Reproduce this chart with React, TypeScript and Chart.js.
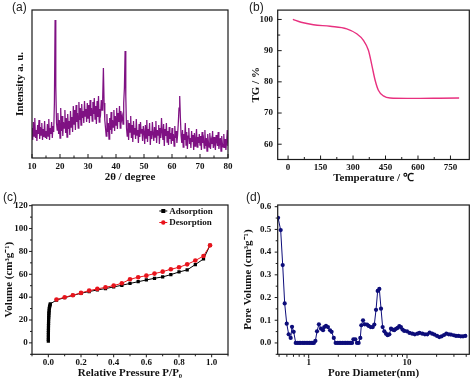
import React, { useEffect, useRef } from "react";
import { Chart, registerables } from "chart.js";

Chart.register(...registerables);

const SERIF = '"Liberation Serif", "Times New Roman", serif';
const SANS = '"Liberation Sans", Arial, sans-serif';

// ---------- (a) XRD ----------
const XRD_START = 10;
const XRD_STEP = 0.25;
const xrdIntensity = [
  30, 18, 36, 22, 40, 20, 28, 17, 33, 24, 38, 19, 31, 23, 35, 18, 29, 21, 37, 20,
  27, 19, 34, 22, 39, 18, 30, 24, 36, 20, 32, 26,
  55, 138, 72, 35,
  28, 45, 24, 38, 20, 50, 27, 42, 22, 36, 30, 48, 25, 40, 21, 44, 29, 37, 23, 47, 31, 41, 26, 52,
  34, 48, 28, 53, 36, 45, 30, 56, 38, 50, 33, 54, 40, 47, 35, 57, 42, 49, 36, 55,
  40, 53, 35, 58, 42, 50, 37, 56, 44, 60, 39, 52, 34, 57, 41, 62, 36, 49, 45, 58,
  48, 60, 90, 55, 38,
  30, 22, 44, 26, 35, 19, 40, 28, 46, 24, 38, 31, 48, 27, 42,
  33, 50, 29, 45, 36, 52, 30, 47, 38, 42, 34, 55,
  70, 107, 62, 30,
  22, 38, 18, 35, 26, 42, 20, 33, 16, 37, 24, 30, 19, 39, 23, 28, 15, 34, 21, 36, 25, 29, 17, 32,
  26, 14, 33, 20, 38, 16, 29, 22, 35, 13, 27, 19, 36, 24, 17, 31, 21, 37, 15, 28,
  23, 33, 14, 30, 20, 40, 26, 18, 34, 12, 29, 22, 35, 16, 27, 13, 31, 19, 25, 14,
  30, 17, 24, 12, 32, 20, 27, 15, 23, 35, 50,
  62, 40, 22,
  15, 28, 11, 24, 18, 35, 13, 26, 9, 22, 30, 14, 20, 10, 27, 16, 23, 8, 25, 12, 19, 29, 11, 21, 15, 24,
  13, 22, 8, 26, 15, 19, 10, 28, 12, 20, 7, 24, 16, 11, 25, 9, 18, 14, 27, 10, 21, 13, 8, 23, 17, 12, 26, 9, 15, 20, 7, 22, 14, 11, 24, 10, 19, 8, 16, 28, 12,
];
const xrdAngle = xrdIntensity.map((_, i) => XRD_START + i * XRD_STEP);
const aXTicks = [10, 20, 30, 40, 50, 60, 70, 80];
const aXMinor = [15, 25, 35, 45, 55, 65, 75];

// ---------- (b) TG ----------
const tgTemperature = [22, 60, 117, 194, 271, 317, 348, 371, 387, 402, 417, 440, 471, 550, 610, 700, 790];
const tgPercent = [100, 99.1, 98.3, 97.8, 97.0, 95.4, 93.3, 90.1, 85.3, 80.5, 77.3, 75.5, 74.8, 74.7, 74.7, 74.75, 74.8];
const bXTicks = [0, 150, 300, 450, 600, 750];
const bXMinor = [75, 225, 375, 525, 675];
const bYTicks = [60, 70, 80, 90, 100];
const bYMinor = [65, 75, 85, 95];

// ---------- (c) N2 isotherm ----------
const adsPressure = [
  0.00002, 0.00005, 0.0001, 0.0002, 0.0003, 0.0005, 0.0007, 0.001, 0.0013, 0.0016, 0.002, 0.0025, 0.003,
  0.0035, 0.004, 0.005, 0.006, 0.007, 0.008, 0.01, 0.012,
  0.05, 0.1, 0.15, 0.2, 0.25, 0.3, 0.35, 0.4, 0.45, 0.5, 0.55, 0.6, 0.65, 0.7, 0.75, 0.8, 0.85, 0.9, 0.95, 0.99,
];
const adsVolume = [
  1.5, 3, 5, 7, 9, 11, 13, 15, 17, 19, 21, 22.5, 24, 25.5, 27, 28.5, 30, 31, 32, 33, 34,
  37.5, 39.5, 41.5, 43.4, 44.9, 46.3, 47.5, 48.9, 50.4, 52, 53.5, 55, 56.5, 57.7, 59.7, 62, 63.8, 68.5, 73.4, 85.3,
];
const desPressure = [0.05, 0.1, 0.15, 0.2, 0.25, 0.3, 0.35, 0.4, 0.45, 0.5, 0.55, 0.6, 0.65, 0.7, 0.75, 0.8, 0.85, 0.9, 0.95, 0.99];
const desVolume = [37.9, 39.9, 41.7, 43.7, 45.7, 47.2, 48.6, 50.1, 52.1, 55.6, 57.4, 58.8, 60.6, 62.3, 64.4, 66.1, 68.7, 72, 76, 85.3];
const cXTicks = [0, 0.2, 0.4, 0.6, 0.8, 1.0];
const cXMinor = [-0.1, 0.1, 0.3, 0.5, 0.7, 0.9, 1.1];
const cYTicks = [0, 20, 40, 60, 80, 100, 120];
const cYMinor = [-10, 10, 30, 50, 70, 90, 110];

// ---------- (d) pore size distribution ----------
const poreDiameter = [
  0.488, 0.519, 0.544, 0.570, 0.598, 0.626, 0.656, 0.677, 0.704, 0.738,
  0.77, 0.80, 0.83, 0.87, 0.90, 0.94, 0.98, 1.02, 1.06, 1.10, 1.13,
  1.17, 1.215, 1.27, 1.335, 1.40, 1.44, 1.50, 1.57, 1.65, 1.71, 1.80, 1.88,
  1.96, 2.04, 2.12, 2.20, 2.29, 2.38, 2.47, 2.57, 2.67, 2.76,
  2.85, 2.98, 3.10, 3.22, 3.35, 3.43, 3.57, 3.71, 3.92, 4.07, 4.27, 4.48, 4.65, 4.84, 5.03, 5.23, 5.44, 5.65,
  5.88, 6.11, 6.35, 6.61, 6.87, 7.14, 7.42, 7.72, 8.03, 8.35, 8.67, 9.0, 9.38, 10, 10.6, 11.3, 12.0, 12.8,
  13.4, 14.3, 15.2, 16.1, 17.0, 18.0, 19.0, 20.2, 21.3, 22.5, 23.8, 25.1, 26.6, 28.0, 29.9, 31.5, 33.3, 35.2,
  37.1, 39.2,
];
const poreVolume = [
  0.551, 0.497, 0.343, 0.174, 0.085, 0.038, 0.022, 0.071, 0.049, 0,
  0, 0, 0, 0, 0, 0, 0, 0, 0, 0, 0,
  0.009, 0.051, 0.082, 0.063, 0.056, 0.07, 0.075, 0.07, 0.056, 0.049, 0.022, 0,
  0, 0, 0, 0, 0, 0, 0, 0, 0, 0,
  0.016, 0.016, 0, 0, 0.022, 0.078, 0.1, 0.082, 0.081, 0.075, 0.07, 0.07, 0.081, 0.146, 0.229, 0.238, 0.151, 0.07,
  0.051, 0.041, 0.034, 0.038, 0.063, 0.059, 0.056, 0.062, 0.066, 0.074, 0.07, 0.059, 0.053, 0.051, 0.044, 0.041, 0.038, 0.041,
  0.044, 0.041, 0.038, 0.038, 0.046, 0.041, 0.037, 0.031, 0.026, 0.029, 0.035, 0.041, 0.038, 0.037, 0.034, 0.031, 0.031, 0.029,
  0.029, 0.031,
];
const dXTicks = [1, 10];
const dXMinor = [0.5, 0.6, 0.7, 0.8, 0.9, 2, 3, 4, 5, 6, 7, 8, 9, 20, 30, 40];
const dYTicks = [0, 0.1, 0.2, 0.3, 0.4, 0.5, 0.6];
const dYMinor = [-0.05, 0.05, 0.15, 0.25, 0.35, 0.45, 0.55];

// ---------- helpers ----------
const TEXT = "#111";

const framePlugin = {
  id: "frame",
  afterDraw(chart: any, _args: any, opts: any) {
    const { ctx, chartArea: a, scales } = chart;
    ctx.save();
    ctx.strokeStyle = "#1a1a1a";
    ctx.lineWidth = 1.2;
    ctx.strokeRect(a.left, a.top, a.right - a.left, a.bottom - a.top);
    ctx.lineWidth = 1;
    for (const m of opts.marks || []) {
      const s = scales[m.axis];
      const sgn = m.inward ? -1 : 1;
      for (const v of m.values) {
        const p = s.getPixelForValue(v);
        if (m.axis === "x" && (p < a.left - 0.5 || p > a.right + 0.5)) continue;
        if (m.axis === "y" && (p < a.top - 0.5 || p > a.bottom + 0.5)) continue;
        ctx.beginPath();
        if (m.axis === "x") {
          ctx.moveTo(p, a.bottom);
          ctx.lineTo(p, a.bottom + sgn * m.len);
        } else {
          ctx.moveTo(a.left, p);
          ctx.lineTo(a.left - sgn * m.len, p);
        }
        ctx.stroke();
      }
    }
    if (opts.legend) {
      const L = opts.legend;
      ctx.font = `bold 9px ${SERIF}`;
      ctx.textBaseline = "middle";
      ctx.textAlign = "left";
      L.items.forEach((it: any, i: number) => {
        const y = a.top + L.dy + i * L.gap;
        const x0 = a.right - L.dx;
        ctx.strokeStyle = it.color;
        ctx.fillStyle = it.color;
        ctx.lineWidth = 1;
        ctx.beginPath();
        ctx.moveTo(x0, y);
        ctx.lineTo(x0 + 8, y);
        ctx.stroke();
        const cx = x0 + 4;
        ctx.beginPath();
        if (it.style === "rect") ctx.rect(cx - 2, y - 2, 4, 4);
        else ctx.arc(cx, y, 2.2, 0, Math.PI * 2);
        ctx.fill();
        ctx.fillStyle = TEXT;
        ctx.fillText(it.label, x0 + 10, y + 0.5);
      });
    }
    ctx.restore();
  },
};

type AxisSpec = {
  type?: string;
  min: number;
  max: number;
  ticks: number[];
  showLabels: boolean;
  fmt?: (v: number) => string;
  title: string;
  titlePad: number;
  tickPad: number;
};

function makeAxis(spec: AxisSpec, isX: boolean, fitSize: number) {
  return {
    type: spec.type || "linear",
    position: isX ? "bottom" : "left",
    min: spec.min,
    max: spec.max,
    grid: { display: false, drawTicks: false },
    border: { display: false },
    afterBuildTicks: (s: any) => {
      s.ticks = spec.ticks.map((v) => ({ value: v }));
    },
    afterFit: (s: any) => {
      if (isX) s.height = fitSize;
      else s.width = fitSize;
    },
    ticks: {
      display: spec.showLabels,
      autoSkip: false,
      maxRotation: 0,
      minRotation: 0,
      padding: spec.tickPad,
      color: TEXT,
      font: { family: SERIF, weight: "bold", size: 9 },
      callback: (v: any) => (spec.fmt ? spec.fmt(Number(v)) : String(v)),
    },
    title: {
      display: true,
      text: spec.title,
      color: TEXT,
      font: { family: SERIF, weight: "bold", size: 11 },
      padding: isX ? { top: 0, bottom: spec.titlePad } : { top: spec.titlePad, bottom: 0 },
    },
  };
}

type PanelSpec = {
  x: number;
  y: number;
  w: number;
  h: number;
  plot: { l: number; t: number; r: number; b: number };
  label: string;
  labelX: number;
  labelY: number;
  datasets: any[];
  xAxis: AxisSpec;
  yAxis: AxisSpec;
  marks: any[];
  legend?: any;
};

function Panel({ spec }: { spec: PanelSpec }) {
  const ref = useRef<HTMLCanvasElement>(null);
  useEffect(() => {
    const p = spec.plot;
    const chart = new Chart(ref.current as HTMLCanvasElement, {
      type: "line",
      data: { datasets: spec.datasets },
      options: {
        responsive: false,
        animation: false,
        devicePixelRatio: 1,
        events: [],
        layout: { padding: { left: 0, bottom: 0, top: p.t, right: spec.w - p.r } },
        plugins: {
          legend: { display: false },
          tooltip: { enabled: false },
          frame: { marks: spec.marks, legend: spec.legend },
        } as any,
        scales: {
          x: makeAxis(spec.xAxis, true, spec.h - p.b),
          y: makeAxis(spec.yAxis, false, p.l),
        } as any,
      },
      plugins: [framePlugin as any],
    });
    return () => chart.destroy();
  }, []);
  return (
    <>
      <canvas
        ref={ref}
        width={spec.w}
        height={spec.h}
        style={{ position: "absolute", left: spec.x, top: spec.y, width: spec.w, height: spec.h }}
      />
      <div
        style={{
          position: "absolute",
          left: spec.labelX,
          top: spec.labelY,
          fontFamily: SANS,
          fontSize: 12,
          lineHeight: "12px",
          color: "#222",
        }}
      >
        {spec.label}
      </div>
    </>
  );
}

const PURPLE = "#7f1183";
const PINK = "#e8307f";
const RED = "#e8141c";
const NAVY = "#0d0d7a";

const panels: PanelSpec[] = [
  {
    x: 0,
    y: 0,
    w: 237,
    h: 190,
    plot: { l: 32, t: 10, r: 228, b: 158 },
    label: "(a)",
    labelX: 12,
    labelY: 1,
    datasets: [
      {
        data: xrdAngle.map((a, i) => ({ x: a, y: xrdIntensity[i] })),
        borderColor: PURPLE,
        borderWidth: 1.25,
        pointRadius: 0,
        tension: 0,
      },
    ],
    xAxis: { min: 10, max: 80, ticks: aXTicks, showLabels: true, title: "2θ / degree", titlePad: 6.5, tickPad: 3 },
    yAxis: { min: 0, max: 148, ticks: [], showLabels: false, title: "Intensity a. u.", titlePad: 14, tickPad: 3 },
    marks: [
      { axis: "x", values: aXTicks, len: 4, inward: true },
      { axis: "x", values: aXMinor, len: 2.5, inward: true },
    ],
  },
  {
    x: 237,
    y: 0,
    w: 237,
    h: 190,
    plot: { l: 40.7, t: 10, r: 232.3, b: 159.5 },
    label: "(b)",
    labelX: 249,
    labelY: 1,
    datasets: [
      {
        data: tgTemperature.map((t, i) => ({ x: t, y: tgPercent[i] })),
        borderColor: PINK,
        borderWidth: 1.4,
        pointRadius: 0,
        cubicInterpolationMode: "monotone",
      },
    ],
    xAxis: { min: -48, max: 837, ticks: bXTicks, showLabels: true, title: "Temperature / ℃", titlePad: 5, tickPad: 3 },
    yAxis: { min: 55.1, max: 103, ticks: bYTicks, showLabels: true, title: "TG / %", titlePad: 13, tickPad: 4.7 },
    marks: [
      { axis: "x", values: bXTicks, len: 4, inward: true },
      { axis: "x", values: bXMinor, len: 2.5, inward: true },
      { axis: "y", values: bYTicks, len: 4, inward: true },
      { axis: "y", values: bYMinor, len: 2.5, inward: true },
    ],
  },
  {
    x: 0,
    y: 190,
    w: 237,
    h: 193,
    plot: { l: 32, t: 15, r: 228, b: 164.3 },
    label: "(c)",
    labelX: 3,
    labelY: 191,
    datasets: [
      {
        data: desPressure.map((p, i) => ({ x: p, y: desVolume[i] })),
        borderColor: RED,
        backgroundColor: RED,
        borderWidth: 1,
        pointRadius: 2.3,
        pointBorderWidth: 0,
        pointStyle: "circle",
        tension: 0,
        order: 0,
      },
      {
        data: adsPressure.map((p, i) => ({ x: p, y: adsVolume[i] })),
        borderColor: "#000",
        backgroundColor: "#000",
        borderWidth: 1,
        pointRadius: 2.3,
        pointBorderWidth: 0,
        pointStyle: "rect",
        tension: 0,
        order: 1,
      },
    ],
    xAxis: {
      min: -0.1,
      max: 1.1,
      ticks: cXTicks,
      showLabels: true,
      fmt: (v) => v.toFixed(1),
      title: "Relative Pressure P/P₀",
      titlePad: 3,
      tickPad: 3,
    },
    yAxis: { min: -10, max: 120.6, ticks: cYTicks, showLabels: true, title: "Volume (cm³g⁻¹)", titlePad: 2.4, tickPad: 4.3 },
    marks: [
      { axis: "x", values: cXTicks, len: 3, inward: false },
      { axis: "x", values: cXMinor, len: 2, inward: false },
      { axis: "y", values: cYTicks, len: 3, inward: false },
      { axis: "y", values: cYMinor, len: 2, inward: false },
    ],
    legend: {
      dx: 68.7,
      dy: 6,
      gap: 11.5,
      items: [
        { label: "Adsorption", color: "#000", style: "rect" },
        { label: "Desorption", color: RED, style: "circle" },
      ],
    },
  },
  {
    x: 237,
    y: 190,
    w: 237,
    h: 193,
    plot: { l: 40.7, t: 15, r: 232.3, b: 164.3 },
    label: "(d)",
    labelX: 246,
    labelY: 191,
    datasets: [
      {
        data: poreDiameter.map((d, i) => ({ x: d, y: poreVolume[i] })),
        borderColor: NAVY,
        backgroundColor: NAVY,
        borderWidth: 1,
        pointRadius: 2.1,
        pointBorderWidth: 0,
        tension: 0,
      },
    ],
    xAxis: {
      type: "logarithmic",
      min: 0.484,
      max: 43,
      ticks: dXTicks,
      showLabels: true,
      fmt: (v) => String(v),
      title: "Pore Diameter(nm)",
      titlePad: 3,
      tickPad: 3,
    },
    yAxis: {
      min: -0.05,
      max: 0.6075,
      ticks: dYTicks,
      showLabels: true,
      fmt: (v) => v.toFixed(1),
      title: "Pore Volume (cm³g⁻¹)",
      titlePad: 4.6,
      tickPad: 6.4,
    },
    marks: [
      { axis: "x", values: dXTicks, len: 4, inward: false },
      { axis: "x", values: dXMinor, len: 2.5, inward: false },
      { axis: "y", values: dYTicks, len: 3, inward: false },
      { axis: "y", values: dYMinor, len: 2, inward: false },
    ],
  },
];

export default function App() {
  return (
    <div style={{ position: "absolute", left: 0, top: 0, width: 474, height: 383, background: "#fff" }}>
      {panels.map((p, i) => (
        <Panel key={i} spec={p} />
      ))}
    </div>
  );
}
